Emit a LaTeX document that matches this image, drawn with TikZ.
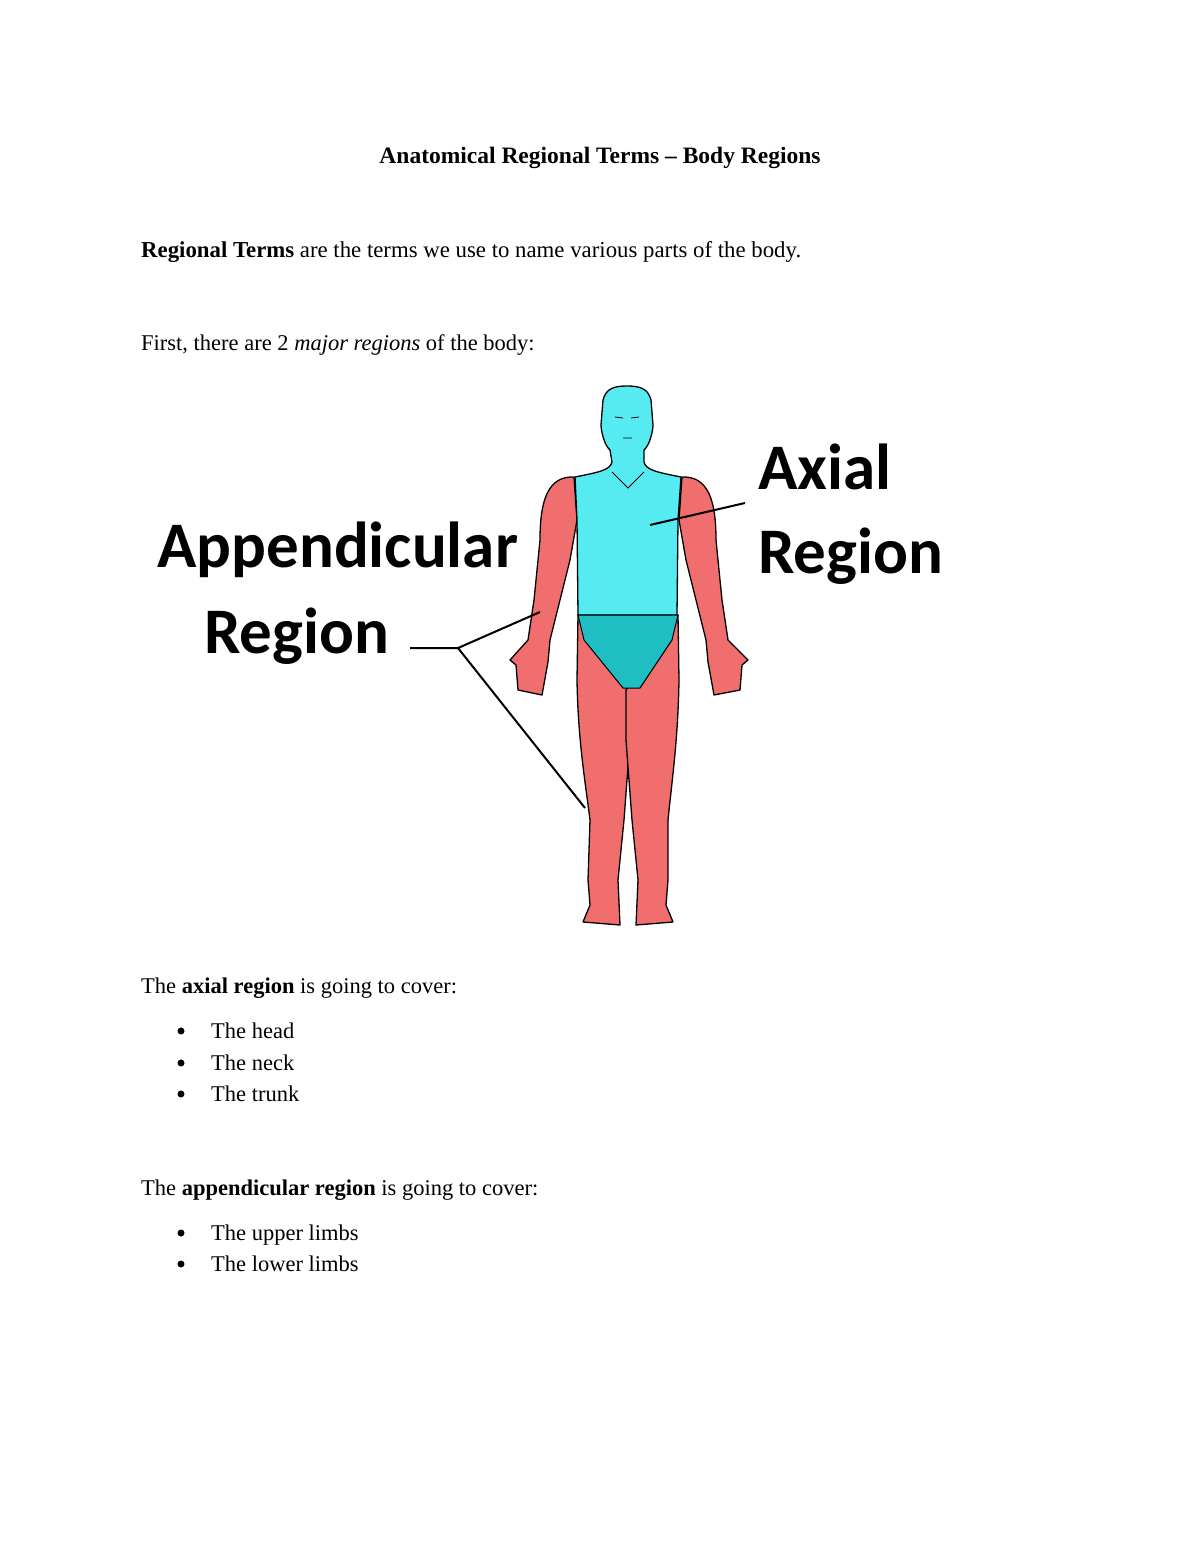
\documentclass[tikz,border=0pt]{standalone}
\usepackage{fontspec}
\setmainfont{Liberation Serif}
\newfontfamily\lab{Carlito}
\definecolor{axc}{RGB}{85,235,240}
\definecolor{apc}{RGB}{240,110,110}
\definecolor{brc}{RGB}{30,190,195}
\begin{document}
\begin{tikzpicture}[x=1pt,y=-1pt,
  body/.style={font=\fontsize{22.5}{26}\selectfont,anchor=base west,inner sep=0},
  big/.style={font=\lab\bfseries\fontsize{65}{70}\selectfont,anchor=base west,inner sep=0},
  axial/.style={fill=axc,draw=black,line width=1.3pt,line join=round},
  appen/.style={fill=apc,draw=black,line width=1.3pt,line join=round},
  brief/.style={fill=brc,draw=black,line width=1pt},
  pointer/.style={draw=black,line width=2pt}]
\useasboundingbox (0,0) rectangle (1200,1553);
\fill[white] (0,0) rectangle (1200,1553);
\node[font=\bfseries\fontsize{23.5}{27}\selectfont,anchor=base,inner sep=0] (title) at (600,163) {Anatomical Regional Terms -- Body Regions};
\node[body,font=\fontsize{22.8}{26}\selectfont] (t1) at (141,257) {\textbf{Regional Terms} are the terms we use to name various parts of the body.};
\node[body] (t2) at (141,350) {First, there are 2 \textit{major regions} of the body:};
% arms
\draw[appen] (574,477) .. controls (548,476) and (540,500) .. (540,540) -- (534,600) -- (528,640) -- (510,660) -- (516,665) -- (518,690) -- (542,695) -- (548,662) -- (550,640) -- (560,600) -- (570,560) -- (577,520) -- cycle;
\draw[appen] (682,477) .. controls (708,476) and (716,500) .. (716,540) -- (722,600) -- (728,640) -- (748,660) -- (742,665) -- (740,690) -- (714,695) -- (708,662) -- (706,640) -- (696,600) -- (686,560) -- (679,520) -- cycle;
% legs
\draw[appen] (578,615) -- (577,680) .. controls (578,740) and (585,780) .. (590,820) -- (588,880) -- (590,905) -- (583,922) -- (620,925) -- (618,880) -- (624,820) -- (630,740) -- (630,690) -- cycle;
\draw[appen] (678,615) -- (679,680) .. controls (678,740) and (672,780) .. (668,820) -- (668,880) -- (666,905) -- (673,922) -- (636,925) -- (638,880) -- (632,820) -- (626,740) -- (626,690) -- cycle;
% trunk
\draw[axial] (575,477) .. controls (600,472) and (610,470) .. (612,462) -- (610,450) .. controls (604,445) and (601,430) .. (601,425) -- (603,400) .. controls (606,388) and (615,386) .. (627,386) .. controls (639,386) and (648,388) .. (651,400) -- (653,425) .. controls (653,430) and (650,445) .. (644,450) -- (644,462) .. controls (646,470) and (656,472) .. (681,477) -- (678,520) -- (677,615) -- (578,615) -- (577,520) -- cycle;
\draw[brief] (578,615) -- (678,615) -- (672,640) -- (640,688) -- (623,688) -- (584,640) -- cycle;
\draw[line width=0.8pt] (612,472) -- (628,488) -- (644,472);
\draw[line width=0.8pt] (615,417) -- (623,418) (631,418) -- (639,417) (623,438) -- (632,438);
% labels
\node[big] (ax) at (758,489) {Axial};
\node[big] (axr) at (758,573) {Region};
\node[big] (ap) at (157,567) {Appendicular};
\node[big] (apr) at (204,653) {Region};
\coordinate (axpt) at (650,525);
\coordinate (axend) at (745,503);
\draw[pointer] (axpt) -- (axend);
\coordinate (aps) at (410,648);
\coordinate (apj) at (458,648);
\coordinate (arm) at (540,612);
\coordinate (leg) at (585,808);
\draw[pointer] (aps) -- (apj) -- (arm) (apj) -- (leg);
% lists
\node[body] (a0) at (141,993) {The \textbf{axial region} is going to cover:};
\foreach \y/\t [count=\i] in {1038/The head,1070/The neck,1101/The trunk}{
  \fill (181,\y-7) circle (3.5);
  \node[body] (ai\i) at (211,\y) {\t};}
\node[body] (b0) at (141,1195) {The \textbf{appendicular region} is going to cover:};
\foreach \y/\t [count=\i] in {1240/The upper limbs,1271/The lower limbs}{
  \fill (181,\y-7) circle (3.5);
  \node[body] (bi\i) at (211,\y) {\t};}
\end{tikzpicture}
\end{document}
